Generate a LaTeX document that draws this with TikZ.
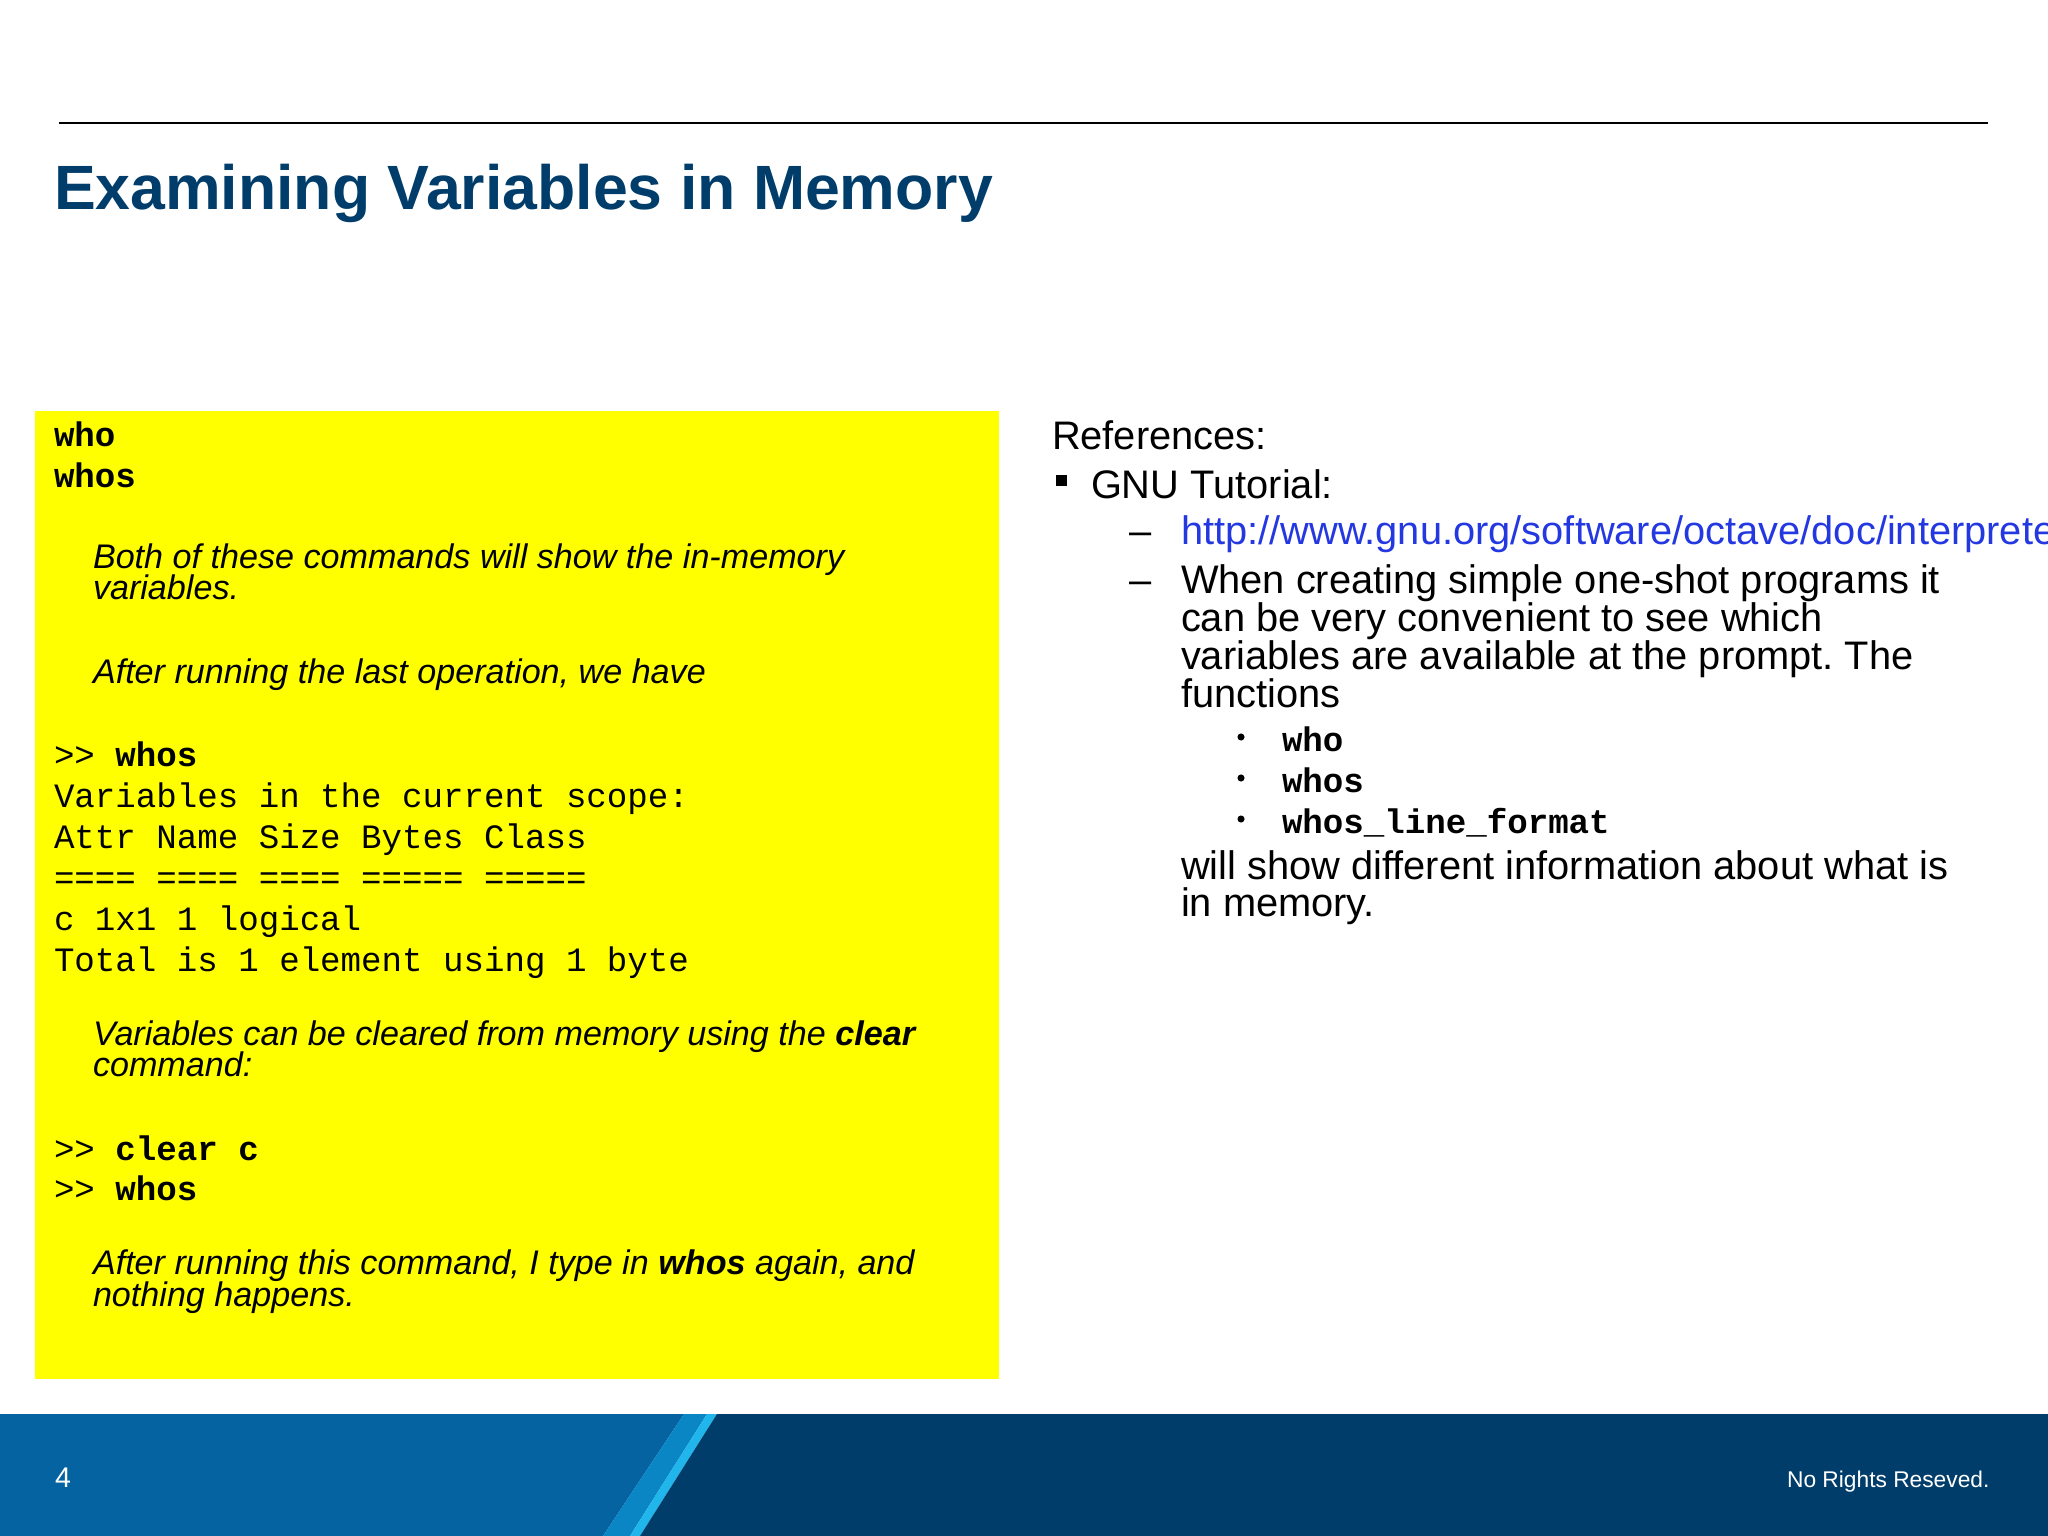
\documentclass[tikz,border=0pt]{standalone}
\usepackage{fontspec}
\setmainfont{Liberation Sans}
\setmonofont{Liberation Mono}
\frenchspacing
\definecolor{navy}{RGB}{0,61,106}
\definecolor{midblue}{RGB}{4,99,160}
\definecolor{bandblue}{RGB}{10,134,196}
\definecolor{cyanline}{RGB}{32,182,236}
\definecolor{linkblue}{RGB}{36,56,226}
\definecolor{hlyellow}{RGB}{255,255,0}
\tikzset{
  txt/.style={anchor=base west, inner sep=0pt, outer sep=0pt},
  mono/.style={txt, font=\ttfamily\fontsize{12}{14}\selectfont},
  monob/.style={txt, font=\ttfamily\bfseries\fontsize{12}{14}\selectfont},
  ital/.style={txt, font=\itshape\fontsize{12}{14}\selectfont},
  body/.style={txt, font=\fontsize{14}{16}\selectfont},
  dot/.style={circle, fill=black, inner sep=0pt, minimum size=2.5pt},
}
\begin{document}
\begin{tikzpicture}[x=0.3515625pt,y=-0.3515625pt]
\useasboundingbox (0,0) rectangle (2048,1536);
\begin{scope}
\clip (0,0) rectangle (2048,1536);
\fill[white] (0,0) rectangle (2048,1536);

% header rule and title
\coordinate (ruleL) at (59,123);
\coordinate (ruleR) at (1988,123);
\draw[line width=0.75pt] (ruleL) -- (ruleR);
\node[txt, font=\bfseries\fontsize{22}{26}\selectfont, text=navy] (title) at (54,210) {Examining Variables in Memory};

% yellow box
\node[fill=hlyellow, inner sep=0pt, minimum width=964*0.3515625pt, minimum height=968*0.3515625pt, anchor=north west] (ybox) at (34,410) {};

\node[monob] (l1) at (54,446.7) {who};
\node[monob] (l2) at (54,487.3) {whos};
\node[ital] (l3) at (93,568.3) {Both of these commands will show the in-memory};
\node[ital] (l4) at (93,600) {variables.};
\node[ital] (l5) at (93,683.3) {After running the last operation, we have};
\node[mono] (l6) at (54,766.7) {>> \textbf{whos}};
\node[mono] (l7) at (54,807.7) {Variables in the current scope:};
\node[mono] (l8) at (54,848.7) {Attr Name Size Bytes Class};
\node[mono] (l9) at (54,889.7) {==== ==== ==== ===== =====};
\node[mono] (l10) at (54,930.7) {c 1x1 1 logical};
\node[mono] (l11) at (54,971.7) {Total is 1 element using 1 byte};
\node[ital] (l12) at (93,1045) {Variables can be cleared from memory using the \textbf{clear}};
\node[ital] (l13) at (93,1076.7) {command:};
\node[mono] (l14) at (54,1160) {>> \textbf{clear c}};
\node[mono] (l15) at (54,1200.5) {>> \textbf{whos}};
\node[ital] (l16) at (93,1274) {After running this command, I type in \textbf{whos} again, and};
\node[ital] (l17) at (93,1306.7) {nothing happens.};

% right column
\node[body] (r1) at (1052,450) {References:};
\node[fill=black, inner sep=0pt, minimum size=3.9pt] (sq) at (1061.5,480.5) {};
\node[body] (r2) at (1091,498.3) {GNU Tutorial:};
\node[body] (d1) at (1129,545) {–};
\node[body, text=linkblue] (r3) at (1181,545) {http://www.gnu.org/software/octave/doc/interpreter/};
\node[body] (d2) at (1129,593.5) {–};
\node[body] (r4) at (1181,593.5) {When creating simple one-shot programs it};
\node[body] (r5) at (1181,631.5) {can be very convenient to see which};
\node[body] (r6) at (1181,669.5) {variables are available at the prompt. The};
\node[body] (r7) at (1181,707.5) {functions};
\node[dot] (b1) at (1241,737) {};
\node[monob] (f1) at (1282,751.7) {who};
\node[dot] (b2) at (1241,778) {};
\node[monob] (f2) at (1282,792.7) {whos};
\node[dot] (b3) at (1241,819) {};
\node[monob] (f3) at (1282,833.3) {whos\_line\_format};
\node[body] (r8) at (1181,879.3) {will show different information about what is};
\node[body] (r9) at (1181,916.7) {in memory.};

% footer
\fill[midblue] (0,1414) -- (684,1414) -- (603,1536) -- (0,1536) -- cycle;
\fill[bandblue] (684,1414) -- (707,1414) -- (630,1536) -- (603,1536) -- cycle;
\fill[cyanline] (707,1414) -- (717,1414) -- (640,1536) -- (630,1536) -- cycle;
\fill[navy] (717,1414) -- (2048,1414) -- (2048,1536) -- (640,1536) -- cycle;
\node[txt, text=white, font=\fontsize{10}{12}\selectfont] (pg) at (55,1487) {4};
\node[anchor=base east, inner sep=0pt, text=white, font=\fontsize{8}{10}\selectfont] (rights) at (1990,1487) {No Rights Reseved.};
\end{scope}
\end{tikzpicture}
\end{document}
